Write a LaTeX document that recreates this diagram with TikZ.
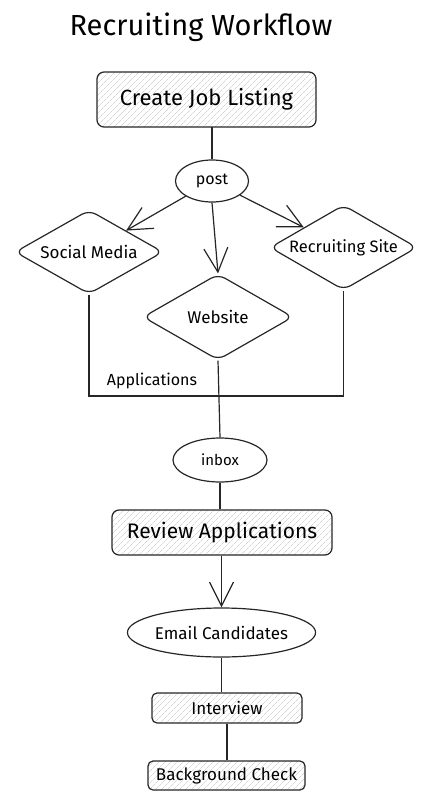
\documentclass[tikz,border=0pt]{standalone}
\usepackage{fontspec}
\setmainfont{Fira Sans}
\usetikzlibrary{shapes.geometric,arrows.meta,patterns.meta}
\tikzset{
  ln/.style={line width=1.2pt, draw=black!85},
  hbox/.style={ln, rounded corners=7pt, inner sep=0pt,
     pattern={Lines[angle=45,distance=4pt,line width=0.4pt]}, pattern color=black!25},
  oval/.style={ln, ellipse, inner sep=0pt},
  dia/.style={ln, diamond, inner sep=0pt, shape aspect=1.76, rounded corners=8pt},
  arr/.style={ln, -{Straight Barb[length=24pt,width=24pt,line width=1.2pt]}},
  lbl/.style={font=\fontsize{17}{19}\selectfont}
}
\begin{document}
\begin{tikzpicture}[x=1pt,y=-1pt]
\useasboundingbox (0,0) rectangle (432,800);
\node (title) at (201,27) {\fontsize{29}{32}\selectfont Recruiting Workflow};
\node[hbox, minimum width=219pt, minimum height=55pt] (cjl) at (206.5,99.5) {\fontsize{22}{25}\selectfont Create Job Listing};
\node[oval, minimum width=73pt, minimum height=42pt, font=\fontsize{16}{18}\selectfont] (post) at (212,181) {post};
\node[dia, minimum width=148pt, minimum height=84pt, lbl] (sm) at (89,252) {Social Media};
\node[dia, minimum width=150pt, minimum height=86pt, lbl] (web) at (218,317) {Website};
\node[dia, minimum width=147pt, minimum height=85pt, font=\fontsize{16.5}{18}\selectfont] (rs) at (343.5,247.5) {Recruiting Site};
\node[font=\fontsize{16}{18}\selectfont] (apps) at (152,381) {Applications};
\coordinate (bus) at (0,396);
\node[oval, minimum width=94pt, minimum height=44pt, font=\fontsize{15}{17}\selectfont] (inbox) at (220,460) {inbox};
\node[hbox, minimum width=220pt, minimum height=45pt] (rev) at (222,532.5) {\fontsize{21}{24}\selectfont Review Applications};
\node[oval, minimum width=177pt, minimum height=49pt, lbl] (email) at (221.5,632.5) {Email Candidates};
\node[hbox, rounded corners=5pt, minimum width=150pt, minimum height=30pt, lbl] (int) at (227,708) {Interview};
\node[hbox, rounded corners=5pt, minimum width=157pt, minimum height=29pt, lbl] (bg) at (226.5,775.5) {Background Check};

\draw[ln] (post.north |- cjl.south) -- (post.north);
\draw[arr] (post) -- (sm);
\draw[arr] (post.south) -- (web.north);
\draw[arr] (post) -- (rs);
\draw[ln] (sm.south) -- (sm.south |- bus) -- (rs.south |- bus) -- (rs.south);
\draw[ln] (web.south) -- (inbox.north);
\draw[ln] (inbox.south) -- (inbox.south |- rev.north);
\draw[arr] (email.north |- rev.south) -- (email.north);
\draw[ln] (email.south) -- (email.south |- int.north);
\draw[ln] (int.south) -- (int.south |- bg.north);
\end{tikzpicture}
\end{document}
